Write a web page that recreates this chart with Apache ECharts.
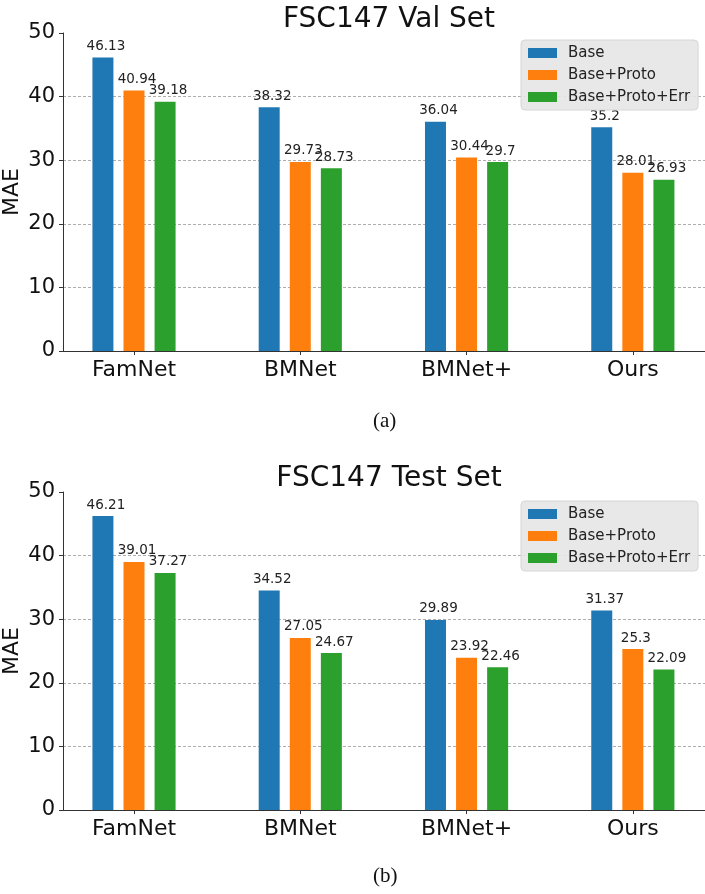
<!DOCTYPE html>
<html>
<head>
<meta charset="utf-8">
<script src="https://cdn.jsdelivr.net/npm/echarts@6/dist/echarts.min.js"></script>
<style>
html, body { margin: 0; padding: 0; background: #fff; }
#chart { width: 705px; height: 894px; }
</style>
</head>
<body>
<div id="chart"></div>
<script>
//类别
var categories = ['FamNet', 'BMNet', 'BMNet+', 'Ours'];
var seriesNames = ['Base', 'Base+Proto', 'Base+Proto+Err'];
var yTicks = [0, 10, 20, 30, 40, 50];

//Val Set
var valBase = [46.13, 38.32, 36.04, 35.2];
var valProto = [40.94, 29.73, 30.44, 28.01];
var valErr = [39.18, 28.73, 29.7, 26.93];

//Test Set
var testBase = [46.21, 34.52, 29.89, 31.37];
var testProto = [39.01, 27.05, 23.92, 25.3];
var testErr = [37.27, 24.67, 22.46, 22.09];

var colors = ['#1f77b4', '#ff7f0e', '#2ca02c'];
var font = 'DejaVu Sans';

var toPairs = function(arr) {
	return arr.map(function(v, i) { return [i, v]; });
};

var makeSeries = function(name, arr, idx, color) {
	return {
		name: name,
		type: 'bar',
		xAxisIndex: idx,
		yAxisIndex: idx,
		data: toPairs(arr),
		barWidth: 21,
		barGap: '48%',
		itemStyle: { color: color },
		label: {
			show: true,
			position: 'top',
			distance: 4,
			offset: [3, 0],
			color: '#222',
			fontFamily: font,
			fontSize: 13.5,
			formatter: function(p) { return String(p.value[1]); }
		}
	};
};

var xAxisOf = function(idx) {
	var ticks = categories.map(function(c, i) { return i; });
	return {
		type: 'value',
		gridIndex: idx,
		min: -0.427,
		max: 3.434,
		axisLine: { show: true, onZero: false, lineStyle: { color: '#333', width: 1 } },
		axisTick: { show: true, customValues: ticks, length: 4, lineStyle: { color: '#333' } },
		axisLabel: {
			customValues: ticks,
			margin: 8,
			color: '#111',
			fontFamily: font,
			fontSize: 22,
			formatter: function(v) { return categories[Math.round(v)]; }
		},
		splitLine: { show: false }
	};
};

var yAxisOf = function(idx) {
	return {
		type: 'value',
		gridIndex: idx,
		min: yTicks[0],
		max: yTicks[yTicks.length - 1],
		interval: 10,
		name: 'MAE',
		nameLocation: 'middle',
		nameGap: 40,
		nameRotate: 90,
		nameMoveOverlap: false,
		nameTextStyle: { fontFamily: font, fontSize: 22, color: '#111' },
		axisLine: { show: true, onZero: false, lineStyle: { color: '#333', width: 1 } },
		axisTick: { show: true, length: 4, lineStyle: { color: '#333' } },
		axisLabel: { margin: 8, color: '#111', fontFamily: font, fontSize: 21 },
		splitLine: {
			show: true,
			showMinLine: false,
			showMaxLine: false,
			lineStyle: { color: '#999', width: 0.8, type: [3, 2] }
		}
	};
};

var legendOf = function(top) {
	return {
		left: 521,
		top: top,
		orient: 'vertical',
		icon: 'rect',
		itemWidth: 29,
		itemHeight: 10,
		itemGap: 4,
		padding: [4, 8, 4, 7],
		backgroundColor: 'rgba(229,229,229,0.9)',
		borderColor: '#d6d6d6',
		borderWidth: 1,
		borderRadius: 4,
		data: seriesNames,
		selectedMode: false,
		textStyle: {
			fontFamily: font,
			fontSize: 15,
			color: '#222',
			lineHeight: 18,
			padding: [0, 0, 0, 6]
		}
	};
};

var chart = echarts.init(document.getElementById('chart'));
chart.setOption({
	animation: false,
	color: colors,
	title: [{
		text: 'FSC147 Val Set',
		left: 384,
		top: 1,
		textAlign: 'center',
		textStyle: { fontFamily: font, fontSize: 28, fontWeight: 'normal', color: '#111' }
	}, {
		text: 'FSC147 Test Set',
		left: 384,
		top: 460,
		textAlign: 'center',
		textStyle: { fontFamily: font, fontSize: 28, fontWeight: 'normal', color: '#111' }
	}],
	legend: [legendOf(40), legendOf(501)],
	grid: [
		{ left: 63, top: 33, right: 0, height: 318, outerBoundsMode: 'none' },
		{ left: 63, top: 492, right: 0, height: 318, outerBoundsMode: 'none' }
	],
	xAxis: [xAxisOf(0), xAxisOf(1)],
	yAxis: [yAxisOf(0), yAxisOf(1)],
	series: [
		makeSeries('Base', valBase, 0, colors[0]),
		makeSeries('Base+Proto', valProto, 0, colors[1]),
		makeSeries('Base+Proto+Err', valErr, 0, colors[2]),
		makeSeries('Base', testBase, 1, colors[0]),
		makeSeries('Base+Proto', testProto, 1, colors[1]),
		makeSeries('Base+Proto+Err', testErr, 1, colors[2])
	],
	graphic: [{
		type: 'text',
		left: 373,
		top: 411,
		style: { text: '(a)', font: '21px "Liberation Serif"', fill: '#111', textAlign: 'center' }
	}, {
		type: 'text',
		left: 373,
		top: 866,
		style: { text: '(b)', font: '21px "Liberation Serif"', fill: '#111', textAlign: 'center' }
	}]
});
</script>
</body>
</html>
